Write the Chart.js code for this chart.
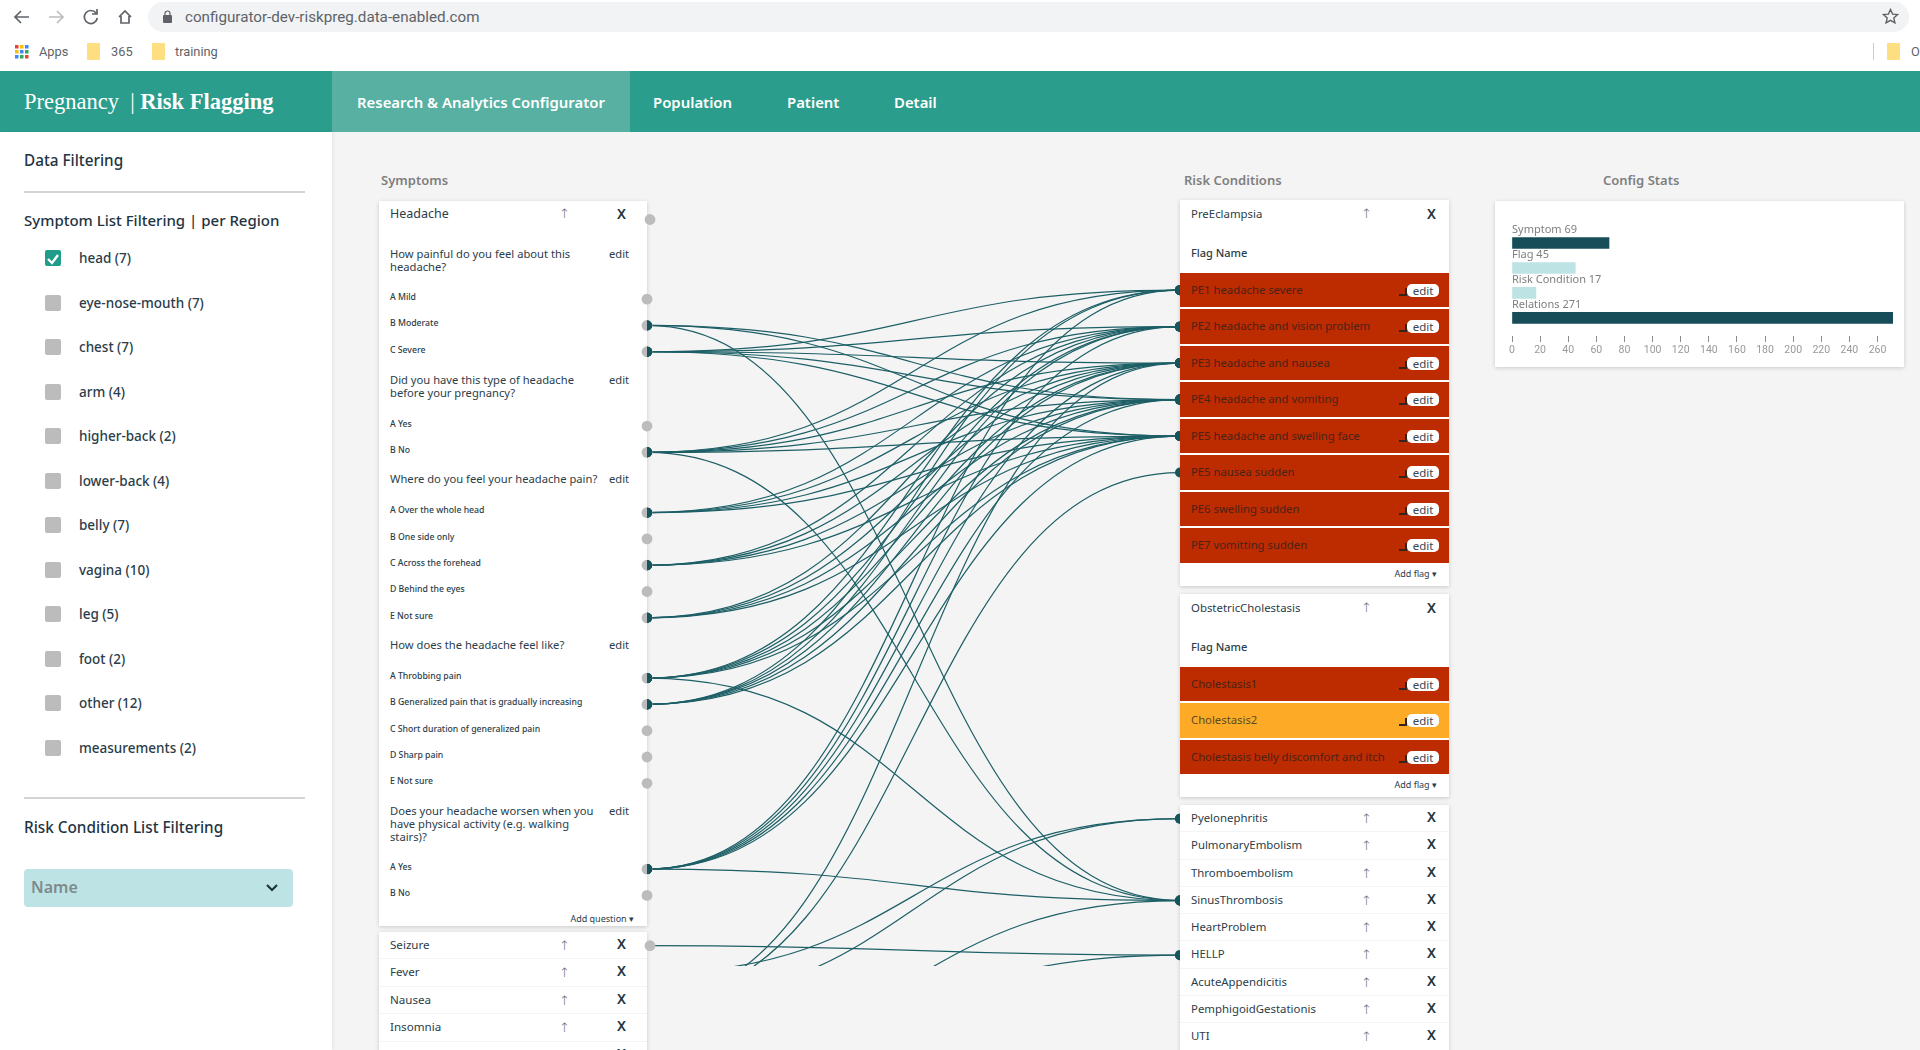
<!DOCTYPE html>
<html>
<head>
<meta charset="utf-8">
<title>Pregnancy | Risk Flagging</title>
<script src="https://cdn.jsdelivr.net/npm/chart.js@4"></script>
<style>
html,body{margin:0;padding:0;width:1920px;height:1050px;overflow:hidden;background:#f4f4f4;font-family:"Noto Sans",sans-serif;color:#2b3d49}
.abs{position:absolute}
#browser{left:0;top:0;width:1920px;height:71px;background:#fff}
#pill{left:148px;top:2px;width:1761px;height:30px;border-radius:15px;background:#f1f3f4}
#url{left:185px;top:8px;font:15.2px Roboto;color:#5f6368}
.bm{top:44px;font:12.8px Roboto;color:#5f6368}
.folder{top:43px;width:13px;height:17px;background:#fdde80;border-radius:1px}
#top{left:0;top:71px;width:1920px;height:61px;background:#2a9d8c;color:#fff}
#active{left:332px;top:0;width:298px;height:61px;background:#57b0a1}
#brand{left:24px;top:18px;font:22.5px "Liberation Serif",serif;color:#fff;white-space:pre}
#brand b{font-weight:700}
.nav{top:20.5px;font:600 14.9px "Noto Sans";color:#fff;white-space:nowrap}
#side{left:0;top:132px;width:332px;height:918px;background:#fff;box-shadow:2px 0 3px rgba(0,0,0,.05)}
.h1{font:500 15.3px "Noto Sans";color:#1f3442;white-space:nowrap}
.rule{left:24px;width:281px;height:2px;background:#d4d4d4}
.cb{left:45px;width:16px;height:16px;border-radius:2px;background:#bcbcbc}
.cb.on{background:#1f9c8a}
.cbl{left:79px;font:500 13.5px "Noto Sans";color:#2b3d49;white-space:nowrap}
#select{left:24px;top:869px;width:269px;height:38px;border-radius:4px;background:#bde3e5}
#select span{position:absolute;left:7px;top:7px;font:600 16px "Noto Sans";color:#7d8a8c}
.title{top:171px;font:600 13px "Noto Sans";color:#7f7f7f;white-space:nowrap}
.card{background:#fff;box-shadow:0 1px 4px rgba(0,0,0,.18)}
#symCard,#symList{left:379px;width:268px}
#symCard{top:201px}
#symList{top:932px;height:150px}
.row{position:relative;box-sizing:border-box}
.hdr{height:37px;font-size:12.5px;padding:5px 0 0 11px;line-height:15px}
.q{font-size:11.2px;line-height:13px;padding-left:11px;white-space:pre-line}
.q1{padding-top:7px;padding-bottom:14px}
.q2{padding-top:8.5px;padding-bottom:13.5px}
.q3{padding-top:8px;padding-bottom:12.5px}
.q .ed{position:absolute;left:230px}
.q1 .ed{top:7px}
.q2 .ed{top:8.5px}
.q3 .ed{top:8px}
.a{height:26.3px;font-size:8.7px;font-weight:500;line-height:22px;padding-left:11px;color:#2b3d49;white-space:nowrap}
.add{height:17px;font-size:9px;text-align:right;padding-right:13px;line-height:20px}
.li{height:27.4px;font-size:11.6px;line-height:26px;padding-left:11px;border-bottom:1px solid #f4f4f4}
.up{position:absolute;left:180px;color:#666;font:300 13px/15px "DejaVu Sans"}
.x{position:absolute;left:238px;font-size:14px;font-weight:600;color:#1f3442}
.hdr .up,.hdr .x{top:5px}
.li .up{top:6px}
.li .x{top:-1px}
#riskA,#riskB,#riskC{left:1180px;width:269px}
#riskA{top:200px}
#riskB{top:594px}
#riskC{top:805px;height:270px}
.rh{height:37px;font-size:11.4px;padding:6px 0 0 11px;line-height:15px}
.fn{height:36px;font-size:11px;font-weight:500;padding:8px 0 0 11px;line-height:15px}
.flag{height:34.3px;margin-bottom:2.2px;background:#bd2b00;font-size:11.3px;line-height:34px;padding-left:11px;color:#4a2318;white-space:nowrap}
.flag.amber{background:#fdab27;color:#5b4a22}
.flag.last{margin-bottom:0}
.flag .mk{position:absolute;left:219px;top:15px;width:6px;height:6px;border-right:2px solid #33241e;border-bottom:2px solid #33241e;border-radius:0 0 1px 0}
.flag .pill{position:absolute;left:227px;top:11px;width:32px;height:13px;border-radius:5px;background:#fff;color:#3b4650;font-size:11.5px;line-height:13px;text-align:center}
.rh .up,.rh .x{top:6px}
.rh .up,.rl .up{left:181px}
.rh .x,.rl .x{left:247px}
.rl{height:27.3px;font-size:11.4px;line-height:26px;padding-left:11px;border-bottom:1px solid #f4f4f4}
.rl .up{top:6px}
.rl .x{top:-1px}
.addf{height:23px;font-size:9px;text-align:right;padding-right:12px;line-height:22px}
#statsCard{left:1495px;top:201px;width:409px;height:166px}
#statsChart{position:absolute;left:0;top:0}
#linkChart{position:absolute;left:630px;top:0;pointer-events:none}
</style>
</head>
<body>
<div class="abs" id="browser">
  <svg class="abs" style="left:0;top:0" width="150" height="32" fill="none" stroke="#5f6368" stroke-width="1.7">
    <path d="M29 17H16M21 11l-6 6 6 6"/>
    <path d="M49 17h13M57 11l6 6-6 6" stroke="#bdbdbd"/>
    <path d="M96 13a6.5 6.5 0 1 0 1.3 5M97 9v5h-5"/>
    <path d="M119 17l6-6 6 6M121 16v7h8v-7"/>
  </svg>
  <div class="abs" id="pill"></div>
  <svg class="abs" style="left:162px;top:10px" width="12" height="14"><rect x="1" y="5" width="9" height="8" rx="1" fill="#5f6368"/><path d="M3 6V3.5a2.5 2.5 0 0 1 5 0V6" fill="none" stroke="#5f6368" stroke-width="1.2"/></svg>
  <div class="abs" id="url">configurator-dev-riskpreg.data-enabled.com</div>
  <svg class="abs" style="left:1882px;top:8px" width="17" height="17" fill="none" stroke="#5f6368" stroke-width="1.4"><path d="M8.5 1.5l2.1 4.6 5 .5-3.8 3.3 1.1 5-4.4-2.6-4.4 2.6 1.1-5L1.4 6.600l5-.5z"/></svg>
  <svg class="abs" style="left:15px;top:45px" width="14" height="14"><g id="dots"></g></svg>
  <div class="abs bm" style="left:39px">Apps</div>
  <div class="abs folder" style="left:87px"></div><div class="abs bm" style="left:111px">365</div>
  <div class="abs folder" style="left:152px"></div><div class="abs bm" style="left:175px">training</div>
  <div class="abs" style="left:1873px;top:43px;width:1px;height:17px;background:#ccc"></div>
  <div class="abs folder" style="left:1887px"></div><div class="abs bm" style="left:1911px">O</div>
</div>
<div class="abs" id="top">
  <div class="abs" id="active"></div>
  <div class="abs" id="brand">Pregnancy  | <b>Risk Flagging</b></div>
  <div class="abs nav" style="left:357px">Research &amp; Analytics Configurator</div>
  <div class="abs nav" style="left:653px">Population</div>
  <div class="abs nav" style="left:787px">Patient</div>
  <div class="abs nav" style="left:894px">Detail</div>
</div>
<div class="abs" id="side"></div>
<div class="abs h1" style="left:24px;top:150px">Data Filtering</div>
<div class="abs rule" style="top:191px"></div>
<div class="abs h1" style="left:24px;top:210px;font-size:15px">Symptom List Filtering | per Region</div>
<div id="filters"></div>
<div class="abs rule" style="top:797px"></div>
<div class="abs h1" style="left:24px;top:817px">Risk Condition List Filtering</div>
<div class="abs" id="select"><span>Name</span>
  <svg class="abs" style="left:241px;top:14px" width="14" height="10" fill="none" stroke="#1f3442" stroke-width="2.200"><path d="M2 2l5 5 5-5"/></svg>
</div>

<div class="abs title" style="left:381px">Symptoms</div>
<div class="abs title" style="left:1184px">Risk Conditions</div>
<div class="abs title" style="left:1603px">Config Stats</div>

<div class="abs card" id="symCard"></div>
<div class="abs card" id="symList"></div>
<div class="abs card" id="riskA"></div>
<div class="abs card" id="riskB"></div>
<div class="abs card" id="riskC"></div>
<div class="abs card" id="statsCard"><canvas id="statsChart" width="409" height="166"></canvas></div>
<canvas id="linkChart" width="570" height="1050"></canvas>

<script>
// config stats
const statLabels = ['Symptom', 'Flag', 'Risk Condition', 'Relations'];
const statValues = [69, 45, 17, 271];
const statColors = ['#164d58', '#bde3e5', '#bde3e5', '#164d58'];

// sidebar
const regionFilters = ['head (7)', 'eye-nose-mouth (7)', 'chest (7)', 'arm (4)', 'higher-back (2)', 'lower-back (4)',
    'belly (7)', 'vagina (10)', 'leg (5)', 'foot (2)', 'other (12)', 'measurements (2)'];

// symptoms column
const headacheQuestions = [
    'How painful do you feel about this\nheadache?',
    'Did you have this type of headache\nbefore your pregnancy?',
    'Where do you feel your headache pain?',
    'How does the headache feel like?',
    'Does your headache worsen when you\nhave physical activity (e.g. walking\nstairs)?'
];
const headacheAnswers = [
    ['A Mild', 'B Moderate', 'C Severe'],
    ['A Yes', 'B No'],
    ['A Over the whole head', 'B One side only', 'C Across the forehead', 'D Behind the eyes', 'E Not sure'],
    ['A Throbbing pain', 'B Generalized pain that is gradually increasing', 'C Short duration of generalized pain', 'D Sharp pain', 'E Not sure'],
    ['A Yes', 'B No']
];
const otherSymptoms = ['Seizure', 'Fever', 'Nausea', 'Insomnia', ''];

// risk conditions column
const preEclampsiaFlags = ['PE1 headache severe', 'PE2 headache and vision problem', 'PE3 headache and nausea', 'PE4 headache and vomiting',
    'PE5 headache and swelling face', 'PE5 nausea sudden', 'PE6 swelling sudden', 'PE7 vomitting sudden'];
const cholestasisFlags = ['Cholestasis1', 'Cholestasis2', 'Cholestasis belly discomfort and itch'];
const otherConditions = ['Pyelonephritis', 'PulmonaryEmbolism', 'Thromboembolism', 'SinusThrombosis', 'HeartProblem', 'HELLP',
    'AcuteAppendicitis', 'PemphigoidGestationis', 'UTI'];

// relations: source is question.answer or symptom name, targets are row names
const relationSources = ['1.1', '1.2', '2.1', '3.0', '3.2', '3.4', '4.0', '4.1', '5.0', 'Seizure', 'Fever', 'Nausea', ''];
const relationTargets = [
    ['PE4', 'PE5', 'SinusThrombosis'],
    ['PE1', 'PE2', 'PE3', 'PE4', 'PE5'],
    ['PE1', 'PE2', 'PE3', 'PE4', 'PE5', 'SinusThrombosis'],
    ['PE2', 'PE3', 'PE4', 'PE5'],
    ['PE2', 'PE3', 'PE4', 'PE5'],
    ['PE2', 'PE3', 'PE4', 'PE5'],
    ['PE1', 'PE2', 'PE3', 'PE4', 'PE5', 'SinusThrombosis'],
    ['PE1', 'PE2', 'PE3', 'PE4', 'PE5'],
    ['PE1', 'PE2', 'PE3', 'PE4', 'PE5', 'SinusThrombosis'],
    ['HELLP'],
    ['Pyelonephritis'],
    ['PE3', 'PE5 nausea', 'Pyelonephritis'],
    ['SinusThrombosis', 'HELLP']
];

const controls = '<span class="up">&#8593;</span><span class="x">X</span>';
const sourceRows = {};
const targetRows = {};

// sidebar checkboxes
const filters = document.getElementById('filters');
regionFilters.forEach((name, i) => {
    const top = 250 + i * 44.5;
    const tick = i === 0 ? '<svg width="16" height="16" fill="none" stroke="#fff" stroke-width="2.400"><path d="M3 8l4 4 6-8"/></svg>' : '';
    filters.insertAdjacentHTML('beforeend',
        `<div class="abs cb ${i === 0 ? 'on' : ''}" style="top:${top}px">${tick}</div>` +
        `<div class="abs cbl" style="top:${top - 1}px">${name}</div>`);
});

// apps icon
const dotColors = ['#ea4335', '#fbbc05', '#4285f4', '#34a853'];
let dots = '';
for (let r = 0; r < 3; r++) {
    for (let c = 0; c < 3; c++) {
        dots += `<rect x="${c * 5}" y="${r * 5}" width="3.500" height="3.500" fill="${dotColors[(r + c) % 4]}"/>`;
    }
}
document.getElementById('dots').innerHTML = dots;

function addRow(parent, cls, html) {
    const row = document.createElement('div');
    row.className = 'row ' + cls;
    row.innerHTML = html;
    parent.appendChild(row);
    return row;
}

// symptoms list
const symCard = document.getElementById('symCard');
const allSourceRows = [];
allSourceRows.push(addRow(symCard, 'hdr', 'Headache' + controls));
headacheQuestions.forEach((q, qi) => {
    const lines = q.split('\n').length;
    addRow(symCard, 'q q' + lines, q + '<span class="ed">edit</span>');
    headacheAnswers[qi].forEach((a, ai) => {
        const row = addRow(symCard, 'a', a);
        sourceRows[(qi + 1) + '.' + ai] = row;
        allSourceRows.push(row);
    });
});
addRow(symCard, 'add', 'Add question &#9662;');

const symList = document.getElementById('symList');
otherSymptoms.forEach(name => {
    const row = addRow(symList, 'li', name + controls);
    sourceRows[name] = row;
    allSourceRows.push(row);
});

// risk conditions
const riskA = document.getElementById('riskA');
const riskB = document.getElementById('riskB');
const riskC = document.getElementById('riskC');
const flagHtml = name => name + '<span class="mk"></span><span class="pill">edit</span>';

addRow(riskA, 'rh', 'PreEclampsia' + controls);
addRow(riskA, 'fn', 'Flag Name');
preEclampsiaFlags.forEach((name, i) => {
    const row = addRow(riskA, 'flag' + (i === preEclampsiaFlags.length - 1 ? ' last' : ''), flagHtml(name));
    const key = name.indexOf('nausea sudden') > 0 ? 'PE5 nausea' : name.split(' ')[0];
    targetRows[key] = row;
});
addRow(riskA, 'addf', 'Add flag &#9662;');

addRow(riskB, 'rh', 'ObstetricCholestasis' + controls);
addRow(riskB, 'fn', 'Flag Name');
cholestasisFlags.forEach((name, i) => {
    addRow(riskB, 'flag' + (i === 1 ? ' amber' : '') + (i === 2 ? ' last' : ''), flagHtml(name));
});
addRow(riskB, 'addf', 'Add flag &#9662;');

otherConditions.forEach(name => {
    targetRows[name] = addRow(riskC, 'rl', name + controls);
});

// page coordinates of a row: the link chart scales are in page pixels
const rowY = el => {
    const b = el.getBoundingClientRect();
    return b.top + b.height / 2;
};
const cardRight = symCard.getBoundingClientRect().right;
const cardLeft = riskA.getBoundingClientRect().left;
const linkTop = symCard.getBoundingClientRect().top;
const linkBottom = 966;

// stats chart
new Chart(document.getElementById('statsChart'), {
    type: 'bar',
    data: {
        labels: statLabels,
        datasets: [{
            data: statValues,
            backgroundColor: statColors,
            barThickness: 11
        }]
    },
    options: {
        indexAxis: 'y',
        responsive: false,
        animation: false,
        layout: { padding: { left: 9, right: 11, top: 29.5, bottom: 8 } },
        plugins: { legend: { display: false }, tooltip: { enabled: false } },
        scales: {
            x: {
                min: 0,
                max: 271,
                border: { display: false },
                grid: { drawOnChartArea: false, tickLength: 12, tickColor: '#8c8c8c', tickBorderDash: [0, 6, 6, 0] },
                ticks: { stepSize: 20, includeBounds: false, maxRotation: 0, autoSkip: false, padding: 2, color: '#999', font: { family: 'Roboto', size: 10.5 } }
            },
            y: {
                border: { display: false },
                grid: { display: false },
                ticks: {
                    mirror: true,
                    padding: 0,
                    labelOffset: -13.5,
                    color: '#7f7f7f',
                    font: { family: 'Noto Sans', size: 11 },
                    callback: (v, i) => statLabels[i] + ' ' + statValues[i]
                }
            }
        }
    }
});

// link chart
const linkColor = '#1d5f66';
const linkDatasets = [];
relationSources.forEach((source, si) => {
    // the list rows keep a plain grey dot, only the answers get the dark one
    const startRadius = sourceRows[source].classList.contains('li') ? 0 : 5;
    relationTargets[si].forEach(target => {
        linkDatasets.push({
            data: [
                { x: cardRight, y: rowY(sourceRows[source]) },
                { x: cardLeft, y: rowY(targetRows[target]) }
            ],
            showLine: false,
            pointRadius: [startRadius, 5],
            pointBackgroundColor: '#17555c',
            pointBorderWidth: 0,
            clip: 0,
            order: 0
        });
    });
});
const greyDots = {
    data: allSourceRows.map((row, i) => ({
        x: cardRight + (i === 0 || row.classList.contains('li') ? 3 : 0),
        y: rowY(row)
    })),
    showLine: false,
    pointRadius: 5.4,
    pointBackgroundColor: '#bcbcbc',
    pointBorderWidth: 0,
    clip: false,
    order: 1
};

// horizontal link curve between the two points of each dataset
const curveLinks = {
    id: 'curveLinks',
    beforeDatasetsDraw(chart) {
        const ctx = chart.ctx;
        const area = chart.chartArea;
        ctx.save();
        ctx.beginPath();
        ctx.rect(area.left, area.top, area.right - area.left, area.bottom - area.top);
        ctx.clip();
        ctx.strokeStyle = linkColor;
        ctx.lineWidth = 1.2;
        linkDatasets.forEach((d, i) => {
            const pts = chart.getDatasetMeta(i + 1).data;
            const mid = (pts[0].x + pts[1].x) / 2;
            ctx.beginPath();
            ctx.moveTo(pts[0].x, pts[0].y);
            ctx.bezierCurveTo(mid, pts[0].y, mid, pts[1].y, pts[1].x, pts[1].y);
            ctx.stroke();
        });
        ctx.restore();
    }
};

new Chart(document.getElementById('linkChart'), {
    type: 'scatter',
    data: { datasets: [greyDots].concat(linkDatasets) },
    options: {
        responsive: false,
        animation: false,
        layout: { padding: { left: cardRight - 630, right: 630 + 570 - cardLeft, top: linkTop, bottom: 1050 - linkBottom } },
        plugins: { legend: { display: false }, tooltip: { enabled: false } },
        scales: {
            x: { display: false, min: cardRight, max: cardLeft },
            y: { display: false, reverse: true, min: linkTop, max: linkBottom }
        }
    },
    plugins: [curveLinks]
});
</script>
</body>
</html>
